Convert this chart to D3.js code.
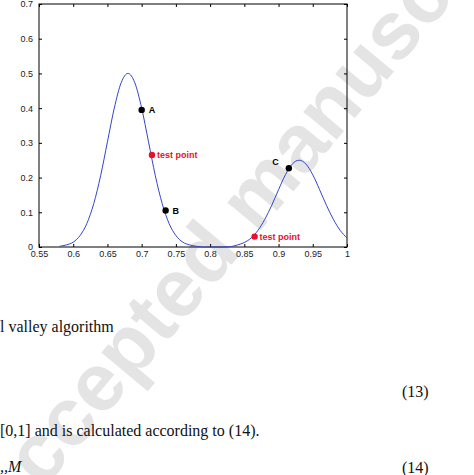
<!DOCTYPE html>
<html><head><meta charset="utf-8">
<script src="https://cdn.jsdelivr.net/npm/d3@7"></script>
<style>body{margin:0;background:#fff}svg{display:block}</style>
</head><body>
<svg id="c" width="474" height="475"></svg>
<script>
// curve samples
var xs = [0.58,0.59,0.60,0.61,0.62,0.63,0.64,0.65,0.66,0.67,0.68,0.69,0.70,0.71,0.72,0.73,0.74,0.75,0.76,0.77,0.78,0.79,0.80,0.81,0.82,0.83,0.84,0.85,0.86,0.87,0.88,0.89,0.90,0.91,0.92,0.93,0.94,0.95,0.96,0.97,0.98,0.99,1.00];
var ys = [0.002,0.006,0.014,0.033,0.068,0.125,0.205,0.303,0.40,0.473,0.50,0.473,0.40,0.303,0.205,0.125,0.068,0.033,0.014,0.006,0.002,0,0,0,0,0.001,0.006,0.013,0.026,0.048,0.08,0.12,0.165,0.208,0.239,0.25,0.239,0.208,0.165,0.12,0.08,0.048,0.026];
var pointLabels = ["A","test point","B","C","test point"];
var pointX = [0.70,0.715,0.735,0.915,0.865];
var pointY = [0.395,0.265,0.105,0.227,0.03];
var pointKind = ["black","red","black","black","red"];
var xTicks = [0.55,0.6,0.65,0.7,0.75,0.8,0.85,0.9,0.95,1];
var yTicks = [0,0.1,0.2,0.3,0.4,0.5,0.6,0.7];

var svg = d3.select("#c");
var L = 39, R = 347, T = 4, B = 247;
var x = d3.scaleLinear().domain([0.55,1]).range([L,R]);
var y = d3.scaleLinear().domain([0,0.7]).range([B,T]);

// watermark
svg.append("text").attr("transform","translate(5,535) rotate(-50)")
  .attr("font-family","Liberation Sans, Arial").attr("font-weight","bold")
  .attr("font-size",82).attr("fill","#e4e4e4").text("Accepted manuscript");

var fmt = function (d) { return d3.format("")(d); };
var axStyle = function (g) {
  g.selectAll("text").attr("font-family","Liberation Sans, Arial").attr("font-size",9).attr("fill","#222");
  g.selectAll("line").attr("stroke","#000");
  g.select(".domain").remove();
};
svg.append("g").attr("transform","translate(0,"+B+")")
  .call(d3.axisBottom(x).tickValues(xTicks).tickFormat(fmt).tickSizeInner(-3).tickSizeOuter(0).tickPadding(4)).call(axStyle);
svg.append("g").attr("transform","translate(0,"+T+")")
  .call(d3.axisTop(x).tickValues(xTicks).tickFormat("").tickSizeInner(-3).tickSizeOuter(0)).call(axStyle);
svg.append("g").attr("transform","translate("+L+",0)")
  .call(d3.axisLeft(y).tickValues(yTicks).tickFormat(fmt).tickSizeInner(-3).tickSizeOuter(0).tickPadding(6)).call(axStyle);
svg.append("g").attr("transform","translate("+R+",0)")
  .call(d3.axisRight(y).tickValues(yTicks).tickFormat("").tickSizeInner(-3).tickSizeOuter(0)).call(axStyle);
svg.append("rect").attr("x",L).attr("y",T).attr("width",R-L).attr("height",B-T)
  .attr("fill","none").attr("stroke","#000").attr("stroke-width",1);

var line = d3.line().x(function (d, i) { return x(xs[i]); }).y(function (d) { return y(d); }).curve(d3.curveMonotoneX);
svg.append("path").attr("d", line(ys)).attr("fill","none").attr("stroke","#3344cc").attr("stroke-width",1);

pointLabels.forEach(function (lab, i) {
  var px = x(pointX[i]), py = y(pointY[i]);
  var col = pointKind[i] === "red" ? "#e8102a" : "#000";
  svg.append("circle").attr("cx",px).attr("cy",py).attr("r",3.2).attr("fill",col);
  var t = svg.append("text").attr("font-family","Liberation Sans, Arial").attr("font-weight","bold")
    .attr("font-size",9).attr("fill",col).text(lab);
  if (lab === "C") t.attr("x",px-10).attr("y",py-3).attr("text-anchor","end");
  else if (lab === "test point") t.attr("x",px+5).attr("y",py+3);
  else t.attr("x",px+7).attr("y",py+3);
});

// page text under the figure
var serif = "Liberation Serif, Times New Roman, serif";
var body = [["l valley algorithm",0,332],["(13)",402,397],["[0,1] and is calculated according to (14).",0,436],["(14)",402,473]];
body.forEach(function (b) {
  svg.append("text").attr("x",b[1]).attr("y",b[2]).attr("font-family",serif).attr("font-size",16).attr("fill","#111").text(b[0]);
});
svg.append("text").attr("x",0).attr("y",472).attr("font-family",serif).attr("font-size",16).attr("font-style","italic").attr("fill","#111").text(",,M");
</script>
</body></html>
